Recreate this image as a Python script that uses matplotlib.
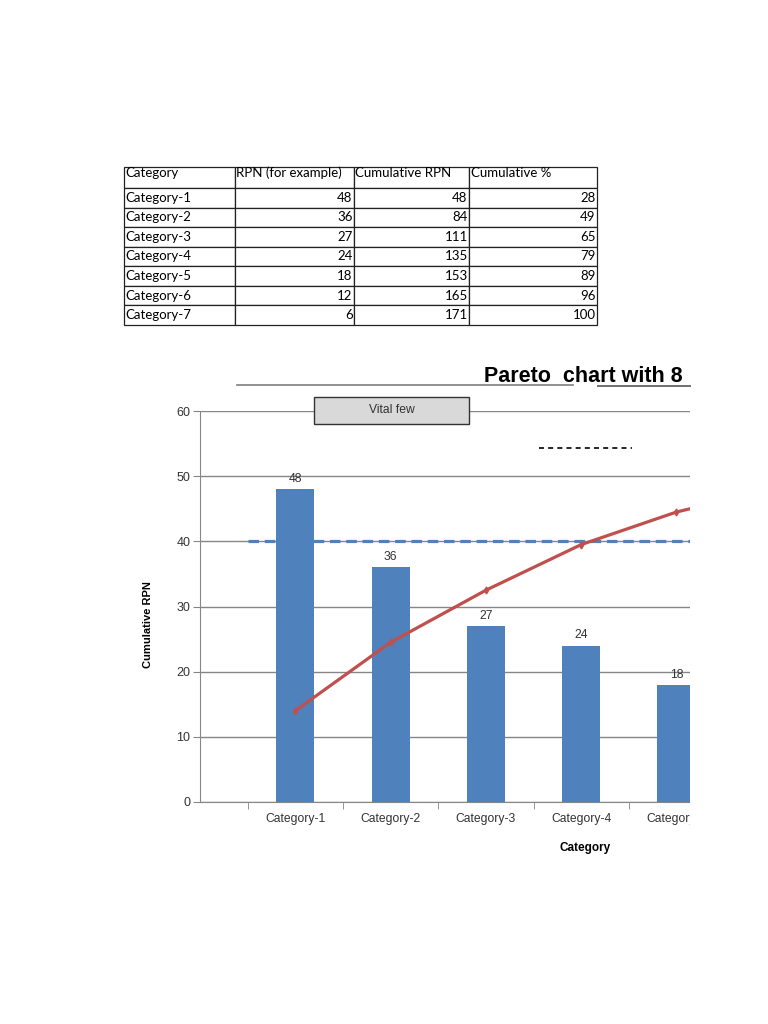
import matplotlib.pyplot as plt
import numpy as np
from matplotlib.lines import Line2D
from matplotlib.patches import Rectangle

categories = ['Category-1', 'Category-2', 'Category-3', 'Category-4',
              'Category-5', 'Category-6', 'Category-7']
rpn = [48, 36, 27, 24, 18, 12, 6]
cumulative_rpn = [48, 84, 111, 135, 153, 165, 171]
cumulative_pct = [28, 49, 65, 79, 89, 96, 100]
table_header = ['Category', 'RPN (for example)', 'Cumulative RPN', 'Cumulative %']
threshold_pct = 80
# the page cuts the title off after this
title = 'Pareto  chart with 8'

BAR_BLUE = '#4F81BD'
LINE_RED = '#C0504D'
GRID = '#868686'
TEXT = '#333333'

W, H = 768, 1024


def fx(px):
    return px / W


def fy(py):
    return 1 - py / H


fig = plt.figure(figsize=(W / 100, H / 100), dpi=100)
fig.patch.set_facecolor('white')

###########
#  Table  #
###########
tax = fig.add_axes([fx(124), fy(325), fx(597) - fx(124), fy(167) - fy(325)])
tax.axis('off')
rows = [[c, str(a), str(b), str(p)] for c, a, b, p in
        zip(categories, rpn, cumulative_rpn, cumulative_pct)]
col_w = np.array([111, 119, 115, 128], dtype=float)
tbl = tax.table(cellText=rows, colLabels=table_header, colWidths=list(col_w / col_w.sum()),
                cellLoc='right', colLoc='left', bbox=[0, 0, 1, 1])
tbl.auto_set_font_size(False)
tbl.set_fontsize(9.5)
for (r, c), cell in tbl.get_celld().items():
    cell.set_linewidth(0.9)
    cell.set_edgecolor('#222222')
    cell.PAD = 0.012
    cell.set_height(21 if r == 0 else 19.6)
    txt = cell.get_text()
    txt.set_fontfamily('Lato')
    txt.set_color('black')
    if c == 0 or r == 0:
        txt.set_ha('left')
    if r == 0:
        # header text sits high in its cell
        txt.set_va('baseline')

###########
#  Chart  #
###########
plt.rcParams['font.family'] = 'Liberation Sans'
ax = fig.add_axes([fx(200), fy(802), fx(690) - fx(200), fy(411) - fy(802)])
x = np.arange(1, len(categories) + 1)

bars = ax.bar(x, rpn, width=0.4, color=BAR_BLUE, zorder=2)
ax.bar_label(bars, labels=[str(v) for v in rpn], padding=3, fontsize=8.7,
             color=TEXT, fontfamily='Liberation Sans')

# secondary scale for cumulative % (its axis is off the page)
ax2 = ax.twinx()
ax2.set_ylim(0, 120)
ax2.set_yticks([])
for s in ax2.spines.values():
    s.set_visible(False)
ax2.hlines(threshold_pct, 0.5, len(categories) + 0.5, colors=BAR_BLUE, lw=2.3,
           linestyles=(0, (3.3, 1.8)))
ax2.plot(x, cumulative_pct, color=LINE_RED, lw=2.3, marker='d', ms=3.5)

ax.set_yticks(np.arange(0, 61, 10))
ax.yaxis.grid(True, color=GRID, lw=1)
ax.set_axisbelow(True)

ax.set_xticks(x)
ax.set_xticklabels(categories, fontfamily='Liberation Sans')
ax.set_xticks(x - 0.5, minor=True)
ax.tick_params(axis='x', which='major', length=0, pad=8, labelsize=8.7, labelcolor=TEXT)
ax.tick_params(axis='x', which='minor', length=5, color=GRID)
ax.tick_params(axis='y', length=5, color=GRID, pad=2, labelsize=9, labelcolor=TEXT)
for lbl in ax.get_yticklabels():
    lbl.set_fontfamily('Liberation Sans')

# one category is ~95 px wide, the page ends at x=690 (set after ticks)
ax.set_xlim(0, (690 - 200) / 95.3)
ax.set_ylim(0, 60)

for side in ['top', 'right']:
    ax.spines[side].set_visible(False)
for side in ['left', 'bottom']:
    ax.spines[side].set_color(GRID)

ax.set_ylabel('Cumulative RPN', fontsize=8, fontweight='bold', color='black')
ax.yaxis.set_label_coords(-0.096, 0.455)
ax.set_xlabel('Category', fontsize=8.5, fontweight='bold', color='black')
ax.xaxis.set_label_coords(0.786, -0.102)

# "Vital few" box and dashed legend stub
ax.add_patch(Rectangle((0.2327, 0.967), 0.549 - 0.2327, 1.036 - 0.967,
                       transform=ax.transAxes, facecolor='#D9D9D9', edgecolor='#333333',
                       lw=1, clip_on=False, zorder=5))
ax.text((0.2327 + 0.549) / 2, 1.0015, 'Vital few', transform=ax.transAxes,
        ha='center', va='center', fontsize=8.7, color=TEXT, zorder=6)
ax.add_line(Line2D([0.692, 0.882], [0.905, 0.905], transform=ax.transAxes,
                   color='black', lw=1.2, ls=(0, (3, 2.5))))

# title and the rules around it
fig.text(fx(484), fy(382), title, fontsize=15.5, fontweight='bold',
         va='baseline', ha='left', color='black')
fig.add_artist(Line2D([fx(237), fx(573)], [fy(384.5)] * 2, color='#7F7F7F', lw=1.2))
fig.add_artist(Line2D([fx(598), fx(690)], [fy(386)] * 2, color='#6F6F6F', lw=1.4))

# the page cuts the chart at the right
fig.add_artist(Rectangle((fx(690), fy(870)), 1 - fx(690), fy(395) - fy(870),
                         transform=fig.transFigure, facecolor='white',
                         edgecolor='none', zorder=10))

fig.savefig('out.png', dpi=100)
